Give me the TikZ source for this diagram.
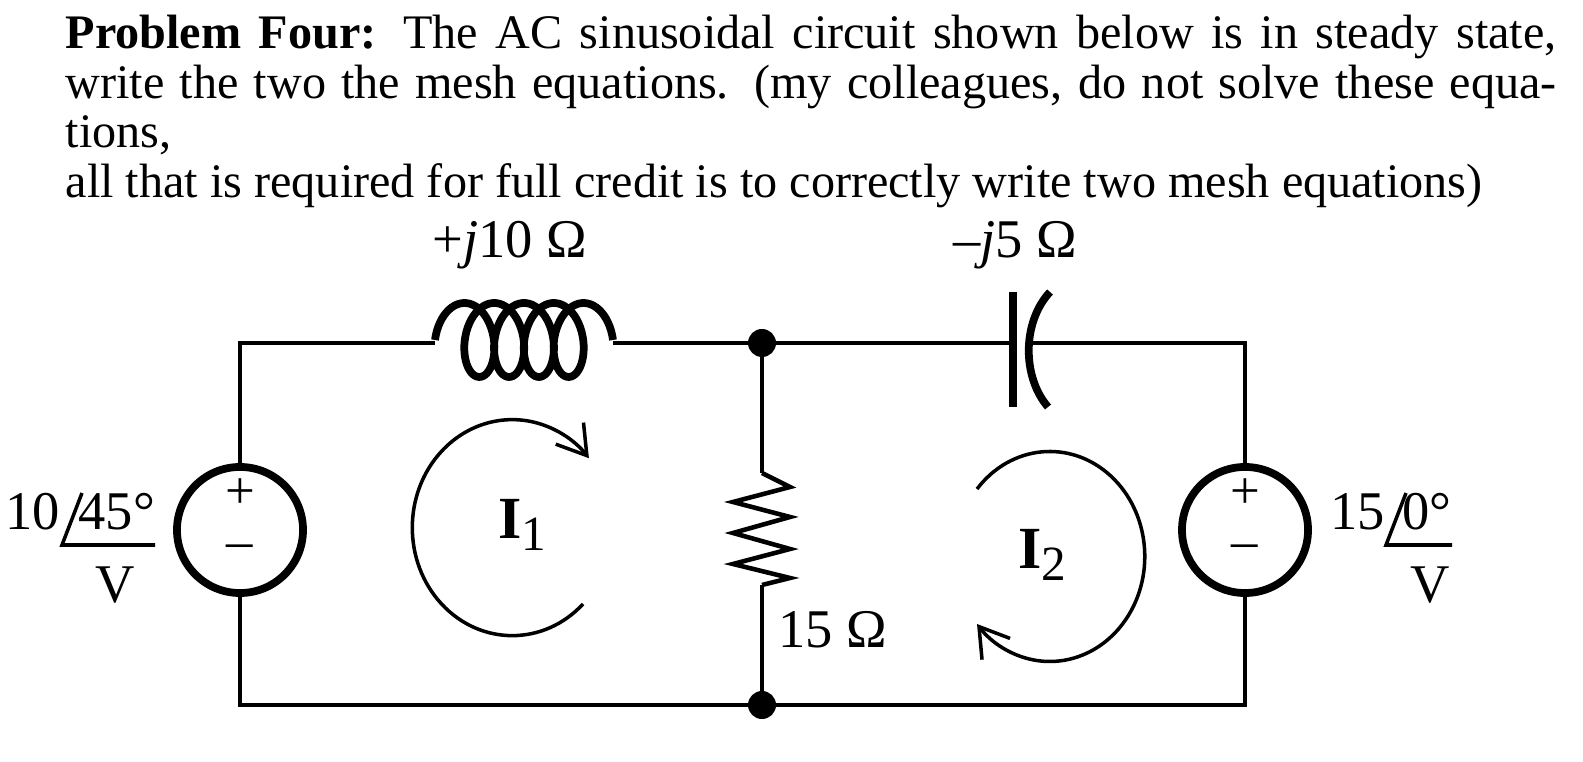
\documentclass[tikz,border=0pt]{standalone}
\usepackage{fontspec}
\setmainfont{Liberation Serif}
\usetikzlibrary{arrows.meta}
\begin{document}
\begin{tikzpicture}[x=0.01cm,y=-0.01cm,
  wire/.style={line width=1pt},
  src/.style={circle,draw,line width=2.2pt,minimum size=1.26cm,inner sep=0pt},
  lbl/.style={font=\fontsize{15.5pt}{16pt}\selectfont,inner sep=0pt},
  sgn/.style={font=\fontsize{15pt}{15pt}\selectfont,inner sep=0pt},
  mesh/.style={line width=1pt,-{Straight Barb[length=8pt,width=10pt,line width=1pt]}},
  dot/.style={circle,fill,inner sep=0pt,minimum size=0.28cm}]
\useasboundingbox (0,0) rectangle (1583,762);
\node[anchor=north west,inner sep=0pt,text width=14.9cm,align=justify,font=\fontsize{13.7pt}{14.2pt}\selectfont] (txt) at (65,14)
 {\hyphenpenalty=10000\exhyphenpenalty=10000\textbf{Problem Four:} The AC sinusoidal circuit shown below is in steady state,\linebreak write the two the mesh equations. (my colleagues, do not solve these equations,\linebreak all that is required for full credit is to correctly write two mesh equations)};
\coordinate (tl) at (240,343);
\coordinate (bl) at (240,705);
\coordinate (tr) at (1245,343);
\coordinate (br) at (1245,705);
\node[dot] (jt) at (762,343) {};
\node[dot] (jb) at (762,705) {};
\node[src] (s1) at (240,530) {};
\node[src] (s2) at (1245,530) {};
\node[sgn] (p1) at (240,494) {+};
\node[sgn] (m1) at (240,552) {\textendash};
\node[sgn] (p2) at (1245,494) {+};
\node[sgn] (m2) at (1245,552) {\textendash};
\coordinate (la) at (435,343);
\coordinate (lb) at (613,343);
\coordinate (ra) at (762,473);
\coordinate (rb) at (762,585);
\coordinate (ca) at (1013,343);
\coordinate (cb) at (1030,343);
% wires
\draw[wire] (s1.north) -- (tl) -- (la);
\draw[wire] (lb) -- (jt.center) -- (ca);
\draw[wire] (cb) -- (tr) -- (s2.north);
\draw[wire] (s2.south) -- (br) -- (jb.center) -- (bl) -- (s1.south);
\draw[wire] (jt.center) -- (ra);
\draw[wire] (rb) -- (jb.center);
% inductor
\draw[line width=2.2pt] plot[domain=0:1620,samples=240,variable=\t] ({457+0.0827*\t-22*cos(\t)},{340-37*sin(\t)});
% resistor
\draw[line width=1.3pt] (ra) -- (790,487) -- (733,502) -- (790,517) -- (733,533) -- (790,549) -- (733,564) -- (790,578) -- (rb);
% capacitor
\draw[line width=2.2pt] (1013,292) -- (1013,407);
\draw[line width=2.2pt] (1050,292) .. controls (1022,322) and (1022,377) .. (1048,407);
% meshes
\draw[mesh] (583,604) arc[start angle=45,end angle=320,x radius=100,y radius=108];
\draw[mesh] (977,489) arc[start angle=220,end angle=500,x radius=95,y radius=105];
\node[lbl,font=\fontsize{17pt}{17pt}\selectfont] (i1) at (522,525) {\textbf{I}\raisebox{-0.45ex}{\fontsize{14pt}{14pt}\selectfont 1}};
\node[lbl,font=\fontsize{17pt}{17pt}\selectfont] (i2) at (1042,555) {\textbf{I}\raisebox{-0.45ex}{\fontsize{14pt}{14pt}\selectfont 2}};
% labels
\node[lbl] (lL) at (510,245) {+\textit{j}10 Ω};
\node[lbl] (lC) at (1015,245) {\textendash\textit{j}5 Ω};
\node[lbl] (lR) at (833,630) {15 Ω};
\node[lbl,anchor=base west] (v1a) at (5,530) {10};
\node[lbl,anchor=base west] (v1b) at (78,530) {45°};
\draw[wire] (82,493) -- (62,545) -- (155,545);
\node[lbl] (v1c) at (115,585) {V};
\node[lbl,anchor=base west] (v2a) at (1330,530) {15};
\node[lbl,anchor=base west] (v2b) at (1402,530) {0°};
\draw[wire] (1406,493) -- (1386,545) -- (1452,545);
\node[lbl] (v2c) at (1430,585) {V};
\end{tikzpicture}
\end{document}
